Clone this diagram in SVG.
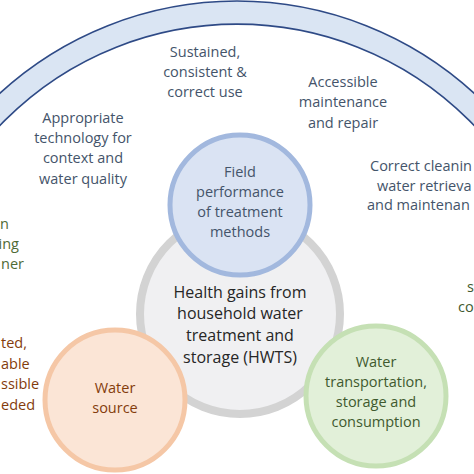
<svg xmlns="http://www.w3.org/2000/svg" width="474" height="474" viewBox="0 0 474 474">
<style>
text{font-family:"Open Sans","Noto Sans","Liberation Sans",sans-serif;font-size:14.5px;text-anchor:middle}
.blue{fill:#44546A}
.dark{fill:#262626;font-size:16px}
.brown{fill:#843C0C}
.green{fill:#3f5a2f}
.olive{fill:#4f6b35}
.end{text-anchor:end}
.start{text-anchor:start}
.edge{fill:none;stroke:#2e4a86;stroke-width:1.6}
</style>
<rect width="474" height="474" fill="#ffffff"/>
<g id="arc">
<path d="M -114 352 A 351 351 0 0 1 588 352 L 565 352 A 328 328 0 0 0 -91 352 Z" fill="#dae5f3"/>
<path class="edge" d="M -114 352 A 351 351 0 0 1 588 352"/>
<path class="edge" d="M -91 352 A 328 328 0 0 1 565 352"/>
</g>
<g id="connectors"></g>
<g id="labels">
<text class="blue"><tspan x="205" y="57">Sustained,</tspan><tspan x="205" y="77">consistent &amp;</tspan><tspan x="205" y="97">correct use</tspan></text>
<text class="blue"><tspan x="343" y="87">Accessible</tspan><tspan x="343" y="107">maintenance</tspan><tspan x="343" y="128">and repair</tspan></text>
<text class="blue"><tspan x="83" y="123">Appropriate</tspan><tspan x="83" y="143">technology for</tspan><tspan x="83" y="163">context and</tspan><tspan x="83" y="184">water quality</tspan></text>
<text class="blue start"><tspan x="370" y="171">Correct cleanin</tspan><tspan x="377" y="191">water retrieva</tspan><tspan x="367" y="210">and maintenan</tspan></text>
<text class="olive end"><tspan x="9" y="229">n</tspan><tspan x="19" y="249">ing</tspan><tspan x="24" y="269">ner</tspan></text>
<text class="brown start"><tspan x="1" y="348">ted,</tspan><tspan x="1" y="369">able</tspan><tspan x="1" y="389">ssible</tspan><tspan x="1" y="410">eded</tspan></text>
<text class="green start"><tspan x="467" y="292">s</tspan><tspan x="458" y="312">co</tspan></text>
</g>
<g id="hwts">
<circle cx="240" cy="314" r="100" fill="#f0f0f2" stroke="#d3d3d3" stroke-width="8"/>
<text class="dark"><tspan x="240" y="298">Health gains from</tspan><tspan x="240" y="319">household water</tspan><tspan x="240" y="341">treatment and</tspan><tspan x="240" y="363">storage (HWTS)</tspan></text>
</g>
<g id="field">
<circle cx="240" cy="205" r="70" fill="#dae3f3" stroke="#a2b8de" stroke-width="5"/>
<text class="blue"><tspan x="240" y="177">Field</tspan><tspan x="240" y="197">performance</tspan><tspan x="240" y="217">of treatment</tspan><tspan x="240" y="237">methods</tspan></text>
</g>
<g id="source">
<circle cx="115" cy="400" r="70" fill="#fbe5d6" stroke="#f5c7a6" stroke-width="5"/>
<text class="brown"><tspan x="115" y="393">Water</tspan><tspan x="115" y="413">source</tspan></text>
</g>
<g id="transport">
<circle cx="376" cy="396" r="70" fill="#e2f0d9" stroke="#c5e0b4" stroke-width="5"/>
<text class="green"><tspan x="376" y="367">Water</tspan><tspan x="376" y="387">transportation,</tspan><tspan x="376" y="407">storage and</tspan><tspan x="376" y="427">consumption</tspan></text>
</g>
</svg>
